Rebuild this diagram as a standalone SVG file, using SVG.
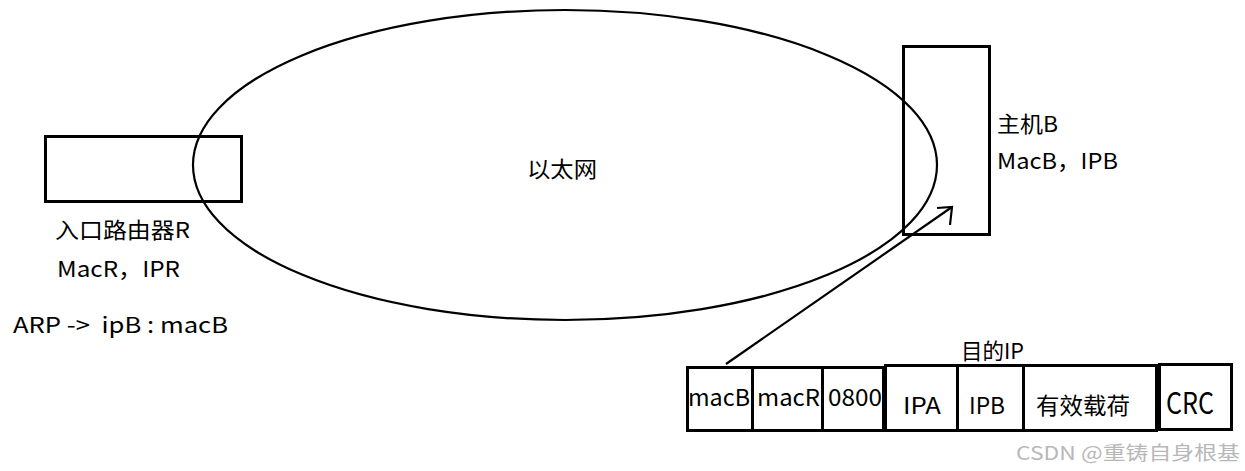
<svg xmlns="http://www.w3.org/2000/svg" width="1245" height="471" viewBox="0 0 1245 471">
<style>
.box{fill:none;stroke:#000;stroke-width:3}
.ln{fill:none;stroke:#000;stroke-width:2.2}
text{font-family:"Noto Sans CJK SC","Noto Sans",sans-serif;fill:#000;white-space:pre}
.t{font-size:22px}
.p{font-size:23px}
.wm{font-size:19px;fill:#b8b8b8}
</style>
<rect width="1245" height="471" fill="#fff"/>
<g id="ethernet">
<ellipse class="ln" cx="565" cy="165" rx="372" ry="155"/>
<text class="t" x="527" y="177" textLength="70" lengthAdjust="spacingAndGlyphs">以太网</text>
</g>
<g id="router">
<rect class="box" x="45.5" y="136.5" width="196" height="65"/>
<text class="t" x="55" y="238" textLength="135" lengthAdjust="spacingAndGlyphs">入口路由器R</text>
<text class="t" x="57" y="277" textLength="123" lengthAdjust="spacingAndGlyphs">MacR，IPR</text>
<text class="t" x="13" y="333" textLength="215" lengthAdjust="spacingAndGlyphs" xml:space="preserve">ARP -&gt;  ipB : macB</text>
</g>
<g id="hostB">
<rect class="box" x="903.5" y="46.5" width="86" height="188"/>
<text class="t" x="997" y="132" textLength="61" lengthAdjust="spacingAndGlyphs">主机B</text>
<text class="t" x="997" y="169" textLength="121" lengthAdjust="spacingAndGlyphs">MacB，IPB</text>
</g>
<g id="frame">
<rect class="box" x="687.5" y="367.5" width="65" height="63"/>
<rect class="box" x="752.5" y="367.5" width="70" height="63"/>
<rect class="box" x="822.5" y="367.5" width="61" height="63"/>
<rect class="box" x="885.5" y="365.5" width="72" height="65"/>
<rect class="box" x="957.5" y="365.5" width="66" height="65"/>
<rect class="box" x="1023.5" y="365.5" width="133" height="65"/>
<rect class="box" x="1159.5" y="364.5" width="72" height="65"/>
<text class="p" x="688" y="406" textLength="62" lengthAdjust="spacingAndGlyphs">macB</text>
<text class="p" x="757" y="406" textLength="63" lengthAdjust="spacingAndGlyphs">macR</text>
<text class="p" x="828" y="406" textLength="54" lengthAdjust="spacingAndGlyphs">0800</text>
<text class="p" x="903" y="414" textLength="38" lengthAdjust="spacingAndGlyphs">IPA</text>
<text class="p" x="969" y="414" textLength="36" lengthAdjust="spacingAndGlyphs">IPB</text>
<text class="p" x="1036" y="414" textLength="94" lengthAdjust="spacingAndGlyphs">有效载荷</text>
<text class="p" x="1166" y="414" style="font-size:30px" textLength="48" lengthAdjust="spacingAndGlyphs">CRC</text>
<text class="t" x="961" y="359" textLength="63" lengthAdjust="spacingAndGlyphs">目的IP</text>
</g>
<g id="connectors">
<polyline class="ln" points="726,364 952,207"/>
<polyline class="ln" points="937,208 952,207 950,225"/>
</g>
<text class="wm" x="1016" y="460" textLength="224" lengthAdjust="spacingAndGlyphs">CSDN @重铸自身根基</text>
</svg>
